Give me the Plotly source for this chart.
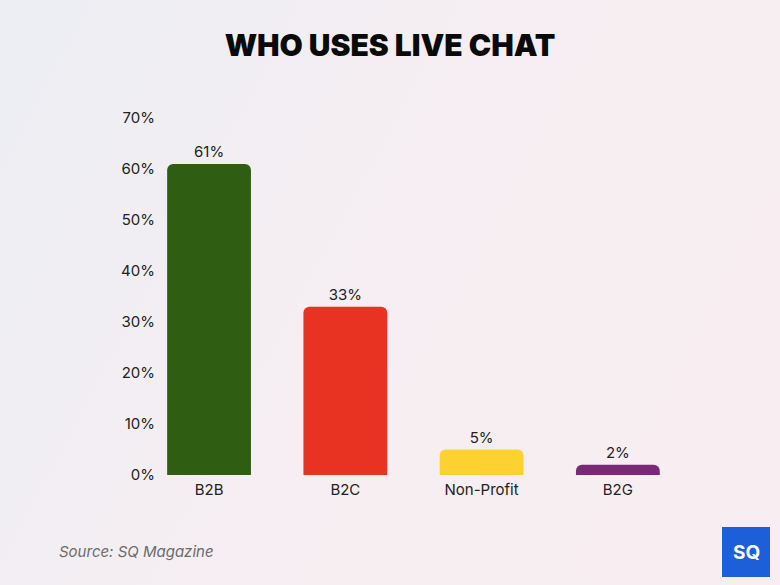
import plotly.graph_objects as go

categories = ["B2B", "B2C", "Non-Profit", "B2G"]
values = [61, 33, 5, 2]
labels = ["61%", "33%", "5%", "2%"]
colors = ["#2f5e12", "#e83323", "#fcd130", "#7a2877"]
tick_vals = [0, 10, 20, 30, 40, 50, 60, 70]
tick_text = ["0%", "10%", "20%", "30%", "40%", "50%", "60%", "70%"]

bg_svg = ("data:image/svg+xml;utf8,"
          "<svg xmlns='http://www.w3.org/2000/svg' width='780' height='585'>"
          "<defs><linearGradient id='g' x1='0' y1='0' x2='1' y2='0.4'>"
          "<stop offset='0' stop-color='%23eceef3'/>"
          "<stop offset='0.6' stop-color='%23f6eef2'/>"
          "<stop offset='1' stop-color='%23f8eef1'/>"
          "</linearGradient></defs>"
          "<rect width='780' height='585' fill='url(%23g)'/></svg>")

fig = go.Figure()
fig.add_trace(go.Bar(
    x=categories, y=values, text=labels, textposition="outside",
    marker=dict(color=colors, cornerradius=6, line=dict(width=0)),
    textfont=dict(family="Inter, Lato, sans-serif", size=15, color="#222222"),
    cliponaxis=False, width=0.615, hoverinfo="skip",
))

fig.update_layout(
    width=780, height=585,
    paper_bgcolor="#f3eff3", plot_bgcolor="rgba(0,0,0,0)",
    margin=dict(l=160, r=94, t=118, b=110),
    showlegend=False,
    title=dict(text="WHO USES LIVE CHAT", x=0.5, xanchor="center", y=0.922, yanchor="middle",
               font=dict(family="Inter, Liberation Sans, sans-serif", size=30, color="#0a0a0a", weight=900)),
    xaxis=dict(range=[-0.36, 3.5], showgrid=False, zeroline=False, showline=False,
               tickfont=dict(family="Inter, Lato, sans-serif", size=15, color="#222222"),
               ticks="", ticklabelstandoff=4),
    yaxis=dict(range=[0, 70], tickvals=tick_vals, ticktext=tick_text, showgrid=False,
               zeroline=False, showline=False, ticks="",
               tickfont=dict(family="Inter, Lato, sans-serif", size=15, color="#222222"),
               ticklabelstandoff=4),
    font=dict(family="Inter, Lato, sans-serif"),
    images=[dict(source=bg_svg, xref="paper", yref="paper", x=-160/526, y=1+118/357,
                 sizex=780/526, sizey=585/357, xanchor="left", yanchor="top",
                 sizing="stretch", layer="below")],
)

# source note
fig.add_annotation(text="<i>Source: SQ Magazine</i>", xref="paper", yref="paper",
                   x=-103/526, y=-76/357, xanchor="left", yanchor="middle", showarrow=False,
                   font=dict(family="Inter, Lato, sans-serif", size=15, color="#6b6b6b"))

# logo
fig.add_shape(type="rect", xref="paper", yref="paper",
              x0=(722-160)/526, x1=(770-160)/526, y0=-(577-475)/357, y1=-(527-475)/357,
              fillcolor="#1d5fd8", line=dict(width=0), layer="above")
fig.add_annotation(text="<b>SQ</b>", xref="paper", yref="paper",
                   x=(746-160)/526, y=-(552-475)/357, xanchor="center", yanchor="middle",
                   showarrow=False, font=dict(family="Inter, Liberation Sans, sans-serif", size=19, color="white"))

fig.write_html("out.html", config={"displayModeBar": False},
               post_script="document.body.style.margin='0';")
